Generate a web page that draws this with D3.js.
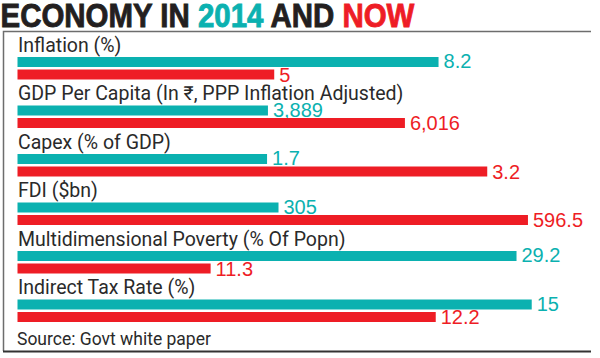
<!DOCTYPE html>
<html>
<head>
<meta charset="utf-8">
<script src="https://cdn.jsdelivr.net/npm/d3@7/dist/d3.min.js"></script>
<style>
  body { margin: 0; background: #fff; }
  svg { display: block; }
</style>
</head>
<body>
<svg width="600" height="358"></svg>
<script>
const categories = ['Inflation (%)', 'GDP Per Capita (In ₹, PPP Inflation Adjusted)', 'Capex (% of GDP)', 'FDI ($bn)', 'Multidimensional Poverty (% Of Popn)', 'Indirect Tax Rate (%)']
const values2014 = [8.2, 3889, 1.7, 305, 29.2, 15]
const valuesNow = [5, 6016, 3.2, 596.5, 11.3, 12.2]
// each metric has its own axis maximum in the original graphic
const scaleMax = [11.15, 8890, 3.9, 669, 33.5, 16.7]

const width = 600
const height = 358
const teal = '#0bb1b0'
const red = '#ee1d25'

const data = categories.map((c, i) => ({ label: c, old: values2014[i], now: valuesNow[i], max: scaleMax[i] }))

const svg = d3.select('svg')

// title, squeezed/stretched to the width of the original
const title = svg.append('text')
  .attr('x', 0)
  .attr('y', 0)
  .style('font-family', '"Liberation Sans Narrow", "Liberation Sans", sans-serif')
  .style('font-weight', 'bold')
  .style('font-size', '34px')
  .attr('fill', '#231f20')
  .attr('stroke', '#231f20')
  .attr('stroke-width', 0.9)
title.append('tspan').text('ECONOMY IN ')
title.append('tspan').attr('fill', teal).attr('stroke', teal).text('2014')
title.append('tspan').text(' AND ')
title.append('tspan').attr('fill', red).attr('stroke', red).text('NOW')
const tw = title.node().getComputedTextLength()
title.attr('transform', `translate(0.5,26.5) scale(${414 / tw},1)`)

// frame
svg.append('path')
  .attr('d', 'M591,31.5 H3.5 V351')
  .attr('fill', 'none')
  .attr('stroke', '#6d6d6d')
  .attr('stroke-width', 1.5)
svg.append('line')
  .attr('x1', 3).attr('x2', 591)
  .attr('y1', 351.5).attr('y2', 351.5)
  .attr('stroke', '#333')
  .attr('stroke-width', 2.2)

// rows
const yRow = d3.scaleBand()
  .domain(categories)
  .range([40, 40 + 48.5 * categories.length])

const x0 = 17.5
const x1 = 590

const rows = svg.selectAll('g.row')
  .data(data)
  .enter().append('g')
  .attr('class', 'row')
  .attr('transform', d => `translate(0,${yRow(d.label)})`)

rows.append('text')
  .attr('x', 18)
  .attr('y', 11.5)
  .style('font-family', 'Roboto, sans-serif')
  .style('font-size', '19.5px')
  .attr('fill', '#2a2a2a')
  .text(d => d.label)

rows.each(function (d) {
  const g = d3.select(this)
  const xScale = d3.scaleLinear().domain([0, d.max]).range([x0, x1])
  const bars = [
    { v: d.old, color: teal, top: 17, base: 28 },
    { v: d.now, color: red, top: 29.5, base: 41.5 }
  ]
  bars.forEach(b => {
    g.append('rect')
      .attr('x', xScale(0))
      .attr('y', b.top)
      .attr('width', xScale(b.v) - xScale(0))
      .attr('height', 10)
      .attr('fill', b.color)
    g.append('text')
      .attr('x', xScale(b.v) + 5)
      .attr('y', b.base)
      .style('font-family', '"Liberation Sans Narrow", sans-serif')
      .style('font-size', '20px')
      .attr('fill', b.color)
      .text(d3.format(',')(b.v))
  })
})

// source
svg.append('text')
  .attr('x', 17)
  .attr('y', 345)
  .style('font-family', 'Roboto, sans-serif')
  .style('font-size', '17.5px')
  .attr('fill', '#2a2a2a')
  .text('Source: Govt white paper')
</script>
</body>
</html>
